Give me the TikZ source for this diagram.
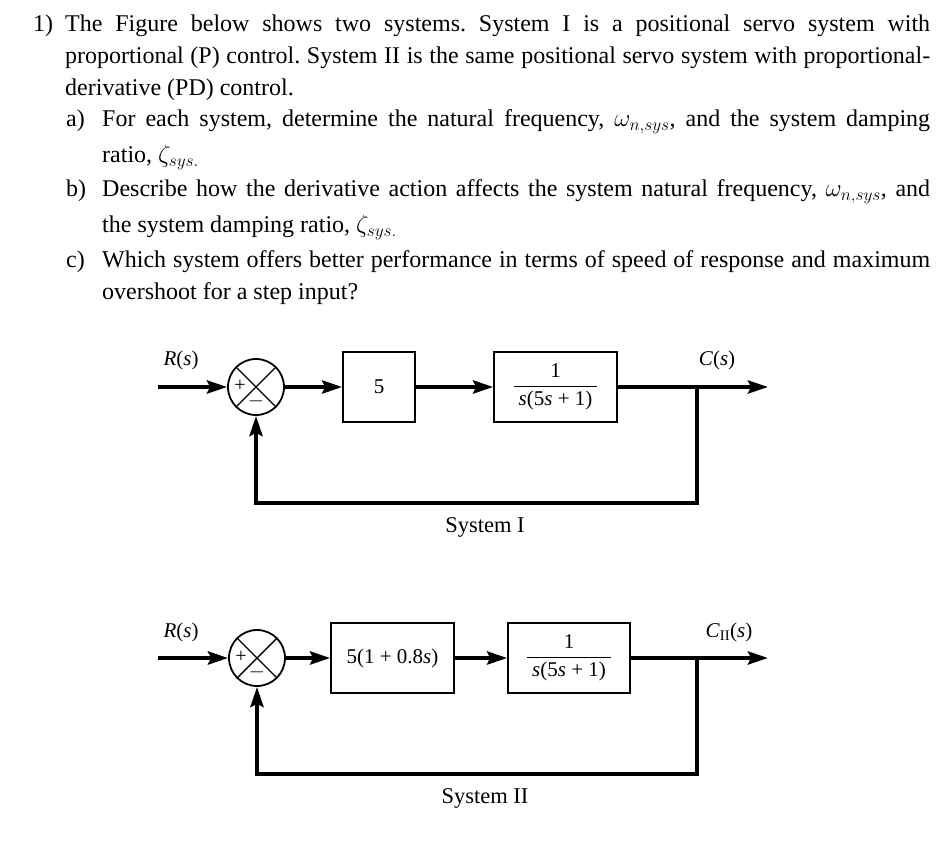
\documentclass[tikz,border=0pt]{standalone}
\usepackage{fontspec}
\setmainfont{Liberation Serif}
\usetikzlibrary{arrows.meta,calc}
\frenchspacing
\newcommand\jline[4]{\node[qtext] (#1) at #2 {\hbox to #3{\spaceskip=.25em plus 1fil minus .12em\relax #4}};}
\newcommand\rline[3]{\node[qtext] (#1) at #2 {#3};}
\newcommand\plantfrac{$\displaystyle\frac{\mbox{1}}{\hspace{5pt}\mbox{\itshape s\upshape(5\itshape s\upshape{} + 1)}\hspace{5pt}}$}

\tikzset{
	qtext/.style={anchor=base west, inner sep=0pt, font=\fontsize{24}{32}\selectfont},
	sig/.style={line width=4pt, -{Stealth[length=20pt,width=13pt,inset=3pt]}},
	wire/.style={line width=4pt},
	blk/.style={draw, line width=1.6pt, minimum height=70pt, inner sep=0pt, font=\fontsize{21}{24}\selectfont},
	sumcirc/.style={draw, circle, line width=1.8pt, minimum size=56pt, inner sep=0pt,
		path picture={\draw[line width=1.4pt] (path picture bounding box.north west) -- (path picture bounding box.south east)
			(path picture bounding box.north east) -- (path picture bounding box.south west);}},
	sgn/.style={inner sep=0pt, font=\fontsize{20}{20}\selectfont},
	lbl/.style={inner sep=0pt, font=\fontsize{21}{24}\selectfont},
	syscap/.style={inner sep=0pt, font=\fontsize{22.5}{26}\selectfont}
}

\begin{document}
\begin{tikzpicture}[x=1pt,y=-1pt]
		%%%%% START %%%%%
		\useasboundingbox (0,0) rectangle (949,858);
		
		% question text
		\rline{n1}{(33,32)}{1)}
		\jline{t1}{(65,32)}{865pt}{The Figure below shows two systems. System I is a positional servo system with}
		\jline{t2}{(65,64)}{865pt}{proportional (P) control. System II is the same positional servo system with proportional-}
		\rline{t3}{(65,96)}{derivative (PD) control.}
		
		\rline{na}{(66,127)}{a)}
		\jline{a1}{(102,127)}{828pt}{For each system, determine the natural frequency, $\omega_{n,sys}$, and the system damping}
		\rline{a2}{(102,163)}{ratio, $\zeta_{sys.}$}
		\rline{nb}{(66,197)}{b)}
		\jline{b1}{(102,197)}{828pt}{Describe how the derivative action affects the system natural frequency, $\omega_{n,sys}$, and}
		\rline{b2}{(102,233)}{the system damping ratio, $\zeta_{sys.}$}
		\rline{nc}{(66,268)}{c)}
		\jline{c1}{(102,268)}{828pt}{Which system offers better performance in terms of speed of response and maximum}
		\rline{c2}{(102,299)}{overshoot for a step input?}
		
		% system I
		\node[sumcirc] (sumA) at (256,387) {};
		\node[sgn] (plusA) at ($(sumA)+(-16,-1)$) {+};
		\node[sgn] (minusA) at ($(sumA)+(0,14)$) {$-$};
		\node[blk, minimum width=72pt] (gainA) at (379,387) {5};
		\node[blk, minimum width=123pt] (plantA) at (555.5,387) {\plantfrac};
		\coordinate (inA) at (158,387);
		\coordinate (outA) at (768,387);
		\coordinate (brA) at (697,387);
		\coordinate (fbA) at (697,503);
		\node[lbl] (rA) at (181,360) {\textit{R}(\textit{s})};
		\node[lbl] (cA) at (717,360) {\textit{C}(\textit{s})};
		\draw[sig] (inA) -- (sumA);
		\draw[sig] (sumA) -- (gainA);
		\draw[sig] (gainA) -- (plantA);
		\draw[sig] (plantA) -- (outA);
		\draw[sig] (brA) -- (fbA) -| (sumA.south);
		\node[syscap] (sysA) at (485,527) {System I};
		
		% system II
		\node[sumcirc] (sumB) at (257,658) {};
		\node[sgn] (plusB) at ($(sumB)+(-16,-1)$) {+};
		\node[sgn] (minusB) at ($(sumB)+(0,14)$) {$-$};
		\node[blk, minimum width=123pt] (gainB) at (392.5,658) {5(1 + 0.8\textit{s})};
		\node[blk, minimum width=122pt] (plantB) at (569,658) {\plantfrac};
		\coordinate (inB) at (158,658);
		\coordinate (outB) at (768,658);
		\coordinate (brB) at (697,658);
		\coordinate (fbB) at (697,774);
		\node[lbl] (rB) at (181,632) {\textit{R}(\textit{s})};
		\node[lbl] (cB) at (729,632) {\textit{C}\textsubscript{II}(\textit{s})};
		\draw[sig] (inB) -- (sumB);
		\draw[sig] (sumB) -- (gainB);
		\draw[sig] (gainB) -- (plantB);
		\draw[sig] (plantB) -- (outB);
		\draw[sig] (brB) -- (fbB) -| (sumB.south);
		\node[syscap] (sysB) at (485,798) {System II};
		
		%%%%% END %%%%%
	\end{tikzpicture}
\end{document}
